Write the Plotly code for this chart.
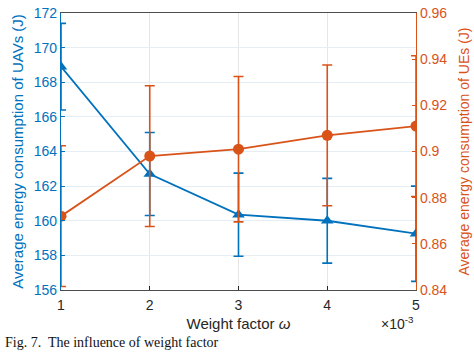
import plotly.graph_objects as go

weight = [1, 2, 3, 4, 5]
uav_energy = [168.9, 162.7, 160.35, 160.0, 159.25]
uav_err = [2.5, 2.4, 2.4, 2.45, 2.75]
ue_energy = [0.872, 0.898, 0.901, 0.907, 0.911]
ue_err = [0.0305, 0.0305, 0.0315, 0.0305, 0.0305]

left_ticks = [156, 158, 160, 162, 164, 166, 168, 170, 172]
right_ticks = [0.84, 0.86, 0.88, 0.90, 0.92, 0.94, 0.96]
right_text = ["0.84", "0.86", "0.88", "0.9", "0.92", "0.94", "0.96"]

BLUE = "#0072BD"
ORANGE = "#D95319"
FONT = "Liberation Sans, Arial, sans-serif"

fig = go.Figure()
fig.add_trace(go.Scatter(
    x=weight, y=uav_energy, mode="lines+markers",
    line=dict(color=BLUE, width=1.8),
    marker=dict(symbol="triangle-up", size=11, color=BLUE),
    error_y=dict(type="data", array=uav_err, color=BLUE, thickness=1.6, width=5),
    yaxis="y", showlegend=False))
fig.add_trace(go.Scatter(
    x=weight, y=ue_energy, mode="lines+markers",
    line=dict(color=ORANGE, width=1.8),
    marker=dict(symbol="circle", size=11, color=ORANGE),
    error_y=dict(type="data", array=ue_err, color=ORANGE, thickness=1.6, width=5),
    yaxis="y2", showlegend=False))

fig.update_layout(
    width=474, height=355,
    margin=dict(l=61, r=58, t=5, b=65),
    paper_bgcolor="white", plot_bgcolor="white",
    font=dict(family=FONT, size=14, color="#262626"),
    xaxis=dict(
        range=[1, 5], tickvals=weight, ticks="inside", ticklen=4,
        tickcolor="#262626", showline=True, linecolor="#4d4d4d", linewidth=1,
        mirror=True, showgrid=True, gridcolor="#e6e6e6", gridwidth=1,
        zeroline=False, tickfont=dict(size=14, color="#262626"),
        ticklabelstandoff=2, ticklabeloverflow="allow",
        title=dict(text="Weight factor <i>ω</i>", font=dict(size=15, color="#262626"), standoff=6),
    ),
    yaxis=dict(
        range=[156, 172], tickvals=left_ticks, ticks="inside", ticklen=4,
        tickcolor=BLUE, showline=True, linecolor=BLUE, linewidth=1.2,
        showgrid=True, gridcolor="#e6eef5", gridwidth=1, zeroline=False,
        tickfont=dict(size=14, color=BLUE), ticklabeloverflow="allow",
        title=dict(text="Average energy consumption of UAVs (J)", font=dict(size=15, color=BLUE), standoff=6),
    ),
    yaxis2=dict(
        range=[0.84, 0.96], tickvals=right_ticks, ticktext=right_text,
        overlaying="y", side="right", ticks="inside", ticklen=4,
        tickcolor=ORANGE, showline=True, linecolor=ORANGE, linewidth=1.2,
        showgrid=False, zeroline=False, tickfont=dict(size=14, color=ORANGE),
        ticklabeloverflow="allow",
    ),
)

fig.add_annotation(
    text="Average energy consumption of UEs (J)", xref="paper", yref="paper",
    x=(463 - 61) / 355, y=0.5, textangle=-90, xanchor="center", yanchor="middle",
    showarrow=False, font=dict(size=14, color=ORANGE))
fig.add_annotation(
    text="×10<sup>-3</sup>", xref="paper", yref="paper", x=1.0, y=-0.08,
    xanchor="right", yanchor="top", showarrow=False,
    font=dict(size=14, color="#262626"))
fig.add_annotation(
    text="Fig. 7.  The influence of weight factor", xref="paper", yref="paper",
    x=-58/355, y=-64/285, xanchor="left", yanchor="bottom", showarrow=False,
    font=dict(family="Liberation Serif, Times New Roman, serif", size=14, color="#111111"))

fig.write_html("out.html", config={"displayModeBar": False},
               post_script="document.body.style.margin='0';")
